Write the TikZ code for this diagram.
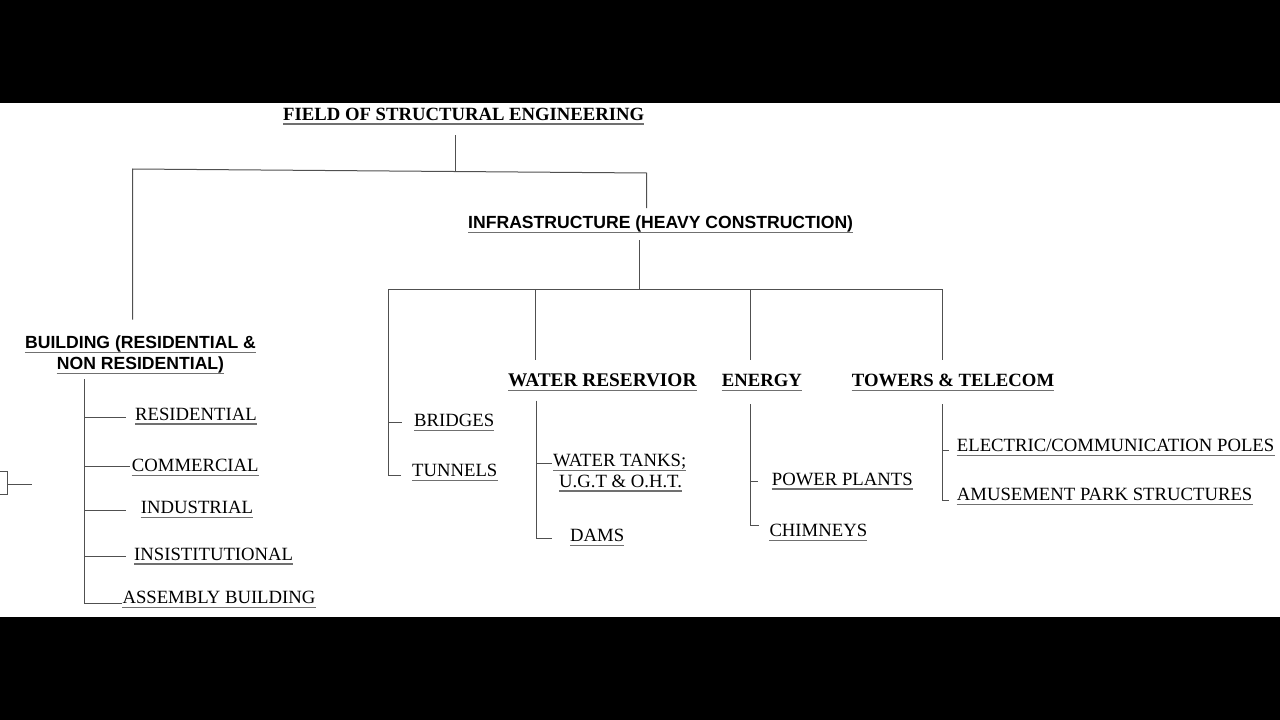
\documentclass[tikz,border=0pt]{standalone}
\usepackage{fontspec}
\setmainfont{Liberation Serif}
\newfontfamily\arialf{Liberation Sans}
\definecolor{linec}{HTML}{505050}
\definecolor{ulc}{HTML}{707070}
\tikzset{
  conn/.style={draw=linec, line width=1pt},
  uline/.style={draw=ulc, line width=1.3pt},
  lbl/.style={anchor=base west, inner sep=0pt, text=black, font=\fontsize{18.7}{20}\selectfont},
  hdr/.style={anchor=base west, inner sep=0pt, text=black, font=\bfseries\fontsize{18.7}{20}\selectfont},
  shdr/.style={anchor=base, inner sep=0pt, text=black, font=\arialf\bfseries\fontsize{17.6}{19}\selectfont},
}
\begin{document}
\begin{tikzpicture}[x=1pt, y=-1pt]
\useasboundingbox (0,0) rectangle (1280,720);
\fill[white] (0,0) rectangle (1280,720);
\fill[black] (0,0) rectangle (1280,103);
\fill[black] (0,617) rectangle (1280,720);

% texts
\node[hdr] (title) at (283,120) {FIELD OF STRUCTURAL ENGINEERING};
\node[shdr, anchor=base west] (infra) at (468,228.5) {INFRASTRUCTURE (HEAVY CONSTRUCTION)};
\node[shdr] (bld1) at (140.5,348.3) {BUILDING (RESIDENTIAL \&};
\node[shdr] (bld2) at (140.5,369.3) {NON RESIDENTIAL)};
\node[hdr, font=\bfseries\fontsize{19.3}{20}\selectfont] (water) at (508,386.7) {WATER RESERVIOR};
\node[hdr] (energy) at (721.7,386.7) {ENERGY};
\node[hdr] (towers) at (851.7,386.7) {TOWERS \& TELECOM};

\node[lbl] (res) at (135,420) {RESIDENTIAL};
\node[lbl] (com) at (131.7,471.7) {COMMERCIAL};
\node[lbl] (ind) at (140.7,513.3) {INDUSTRIAL};
\node[lbl] (ins) at (134,560) {INSISTITUTIONAL};
\node[lbl] (ass) at (122.3,603.5) {ASSEMBLY BUILDING};

\node[lbl] (bri) at (414,426.7) {BRIDGES};
\node[lbl] (tun) at (412,476.7) {TUNNELS};

\node[lbl] (wt1) at (553,466.5) {WATER TANKS;};
\node[lbl] (wt2) at (559,487) {U.G.T \& O.H.T.};
\node[lbl] (dams) at (570,541.7) {DAMS};

\node[lbl] (pow) at (771.7,485) {POWER PLANTS};
\node[lbl] (chi) at (769.3,536.7) {CHIMNEYS};

\node[lbl] (ele) at (956.7,451.7) {ELECTRIC/COMMUNICATION POLES};
\node[lbl] (amu) at (956.7,500.7) {AMUSEMENT PARK STRUCTURES};

% underlines
\foreach \n in {title,infra,bld1,bld2,water,energy,towers,res,com,ind,ins,ass,bri,tun,wt1,wt2,dams,pow,chi,ele,amu}
  \draw[uline] ([yshift=-4pt]\n.base west) -- ([yshift=-4pt]\n.base east);

% junction coordinates
\coordinate (tstem) at (455,135);
\coordinate (tj) at (455,171.2);
\coordinate (hl) at (132.5,169);
\coordinate (hr) at (646.7,173);
\coordinate (bldtop) at (132.5,319.5);
\coordinate (infratop) at (646.7,208);
\coordinate (istem) at (639.3,240);
\coordinate (ij) at (639.3,289.3);
\coordinate (h2l) at (388,289.3);
\coordinate (h2r) at (942.3,289.3);
\coordinate (wtop) at (535,360);
\coordinate (etop) at (750.7,360);
\coordinate (ttop) at (942.3,360);
\coordinate (wj) at (535,289.3);
\coordinate (ej) at (750.7,289.3);

% top level
\draw[conn] (tstem) -- (tj);
\draw[conn] (bldtop) -- (hl) -- (hr) -- (infratop);
\draw[conn] (istem) -- (ij);
\draw[conn] (401,475) coordinate (tunT) -- (388,475) -- (h2l) -- (h2r) -- (ttop);
\draw[conn] (388,422) -- (401.7,422) coordinate (briT);
\draw[conn] (wj) -- (wtop);
\draw[conn] (ej) -- (etop);

% water branch
\draw[conn] (536.7,400.7) -- (536.7,538) -- (551.7,538) coordinate (damsT);
\draw[conn] (536.7,463.3) -- (551.5,463.3) coordinate (wtT);
% energy branch
\draw[conn] (750.7,404) -- (750.7,525) -- (759,525) coordinate (chiT);
\draw[conn] (750.7,481.7) -- (758,481.7) coordinate (powT);
% towers branch
\draw[conn] (942.3,404) -- (942.3,500) -- (949,500) coordinate (amuT);
\draw[conn] (942.3,450) -- (949,450) coordinate (eleT);
% building branch
\draw[conn] (84,379.3) -- (84,603) -- (121.7,603) coordinate (assT);
\draw[conn] (84,417.7) -- (126,417.7) coordinate (resT);
\draw[conn] (84,466.7) -- (130,466.7) coordinate (comT);
\draw[conn] (84,510) -- (126,510) coordinate (indT);
\draw[conn] (84,556) -- (126,556) coordinate (insT);

% small bracket at left edge
\draw[conn] (0,471) -- (7,471) -- (7,494.3) -- (0,494.3);
\draw[conn] (7,484) -- (31.7,484) coordinate (brT);
\end{tikzpicture}
\end{document}
